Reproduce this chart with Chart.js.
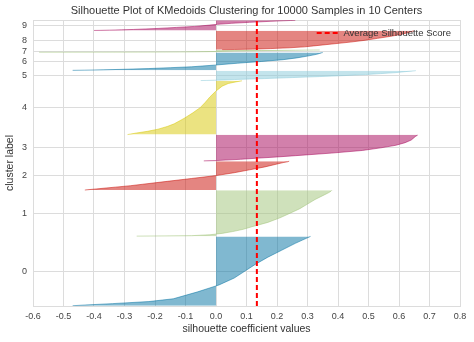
<!DOCTYPE html>
<html>
<head>
<meta charset="utf-8">
<script src="https://cdn.jsdelivr.net/npm/chart.js@4.4.0/dist/chart.umd.min.js"></script>
<style>
  html, body { margin: 0; padding: 0; background: #ffffff; }
  canvas { display: block; }
</style>
</head>
<body>
<canvas id="chart" width="474" height="342"></canvas>
<script>
// cluster ids and number of samples in each cluster
var clusterNames = ["0", "1", "2", "3", "4", "5", "6", "7", "8", "9"];
var clusterSizes = [2450, 1620, 1020, 920, 1900, 350, 630, 80, 670, 360];

// position inside a cluster (0 = lowest sorted sample, 1 = highest)
var ranks = [0, 0.01, 0.03, 0.06, 0.1, 0.15, 0.2, 0.3, 0.4, 0.5, 0.6, 0.7, 0.8, 0.9, 0.95, 0.98, 1];

// sorted silhouette values of each cluster, read at the ranks above
var cluster0 = [-0.47, -0.43, -0.34, -0.22, -0.14, -0.10, -0.06, 0.01, 0.06, 0.095, 0.13, 0.17, 0.215, 0.26, 0.285, 0.30, 0.31];
var cluster1 = [-0.26, -0.08, -0.02, 0.02, 0.055, 0.09, 0.115, 0.17, 0.21, 0.243, 0.275, 0.30, 0.325, 0.355, 0.37, 0.377, 0.38];
var cluster2 = [-0.43, -0.42, -0.40, -0.37, -0.33, -0.28, -0.24, -0.16, -0.08, 0.0, 0.06, 0.11, 0.16, 0.20, 0.22, 0.235, 0.24];
var cluster3 = [-0.04, 0.0, 0.03, 0.08, 0.13, 0.20, 0.26, 0.38, 0.48, 0.54, 0.59, 0.62, 0.64, 0.65, 0.655, 0.66, 0.66];
var cluster4 = [-0.29, -0.28, -0.26, -0.225, -0.19, -0.16, -0.137, -0.105, -0.077, -0.052, -0.035, -0.02, -0.002, 0.02, 0.04, 0.065, 0.085];
var cluster5 = [-0.05, -0.03, -0.005, 0.03, 0.06, 0.11, 0.16, 0.25, 0.34, 0.42, 0.49, 0.54, 0.59, 0.62, 0.64, 0.65, 0.655];
var cluster6 = [-0.47, -0.43, -0.37, -0.30, -0.22, -0.15, -0.08, 0.0, 0.07, 0.15, 0.22, 0.265, 0.30, 0.33, 0.34, 0.345, 0.35];
var cluster7 = [-0.58, -0.50, -0.40, -0.30, -0.20, -0.12, -0.07, -0.02, 0.02, 0.06, 0.10, 0.15, 0.20, 0.26, 0.30, 0.32, 0.34];
var cluster8 = [0.02, 0.06, 0.12, 0.18, 0.24, 0.29, 0.32, 0.38, 0.44, 0.49, 0.53, 0.57, 0.605, 0.63, 0.64, 0.645, 0.65];
var cluster9 = [-0.40, -0.38, -0.35, -0.31, -0.27, -0.23, -0.19, -0.13, -0.07, -0.03, 0.005, 0.05, 0.11, 0.18, 0.22, 0.245, 0.26];
var profiles = [cluster0, cluster1, cluster2, cluster3, cluster4, cluster5, cluster6, cluster7, cluster8, cluster9];

var avgScore = 0.134;
var xTicks = { min: -0.6, max: 0.8, step: 0.1 };

var palette = ["#0272a2", "#9fc377", "#ca0b03", "#a50258", "#d7c703", "#88cada"];
var gap = 10;

function withAlpha(hex, a) {
    var n = parseInt(hex.slice(1), 16);
    return "rgba(" + (n >> 16) + "," + ((n >> 8) & 255) + "," + (n & 255) + "," + a + ")";
}

// stack the clusters bottom-up, 10 empty rows between them
var labelPos = [];
var datasets = [];
var lower = gap;
clusterSizes.forEach(function (size, k) {
    var base = lower;
    var col = palette[k % palette.length];
    datasets.push({
        label: "cluster " + clusterNames[k],
        data: ranks.map(function (r, i) { return { x: profiles[k][i], y: base + r * size }; }),
        borderColor: withAlpha(col, 0.5),
        backgroundColor: withAlpha(col, 0.5),
        borderWidth: 1,
        fill: "origin",
        order: 1
    });
    labelPos.push(base + size / 2);
    lower = base + size + gap;
});
var yMax = lower;

datasets.push({
    label: "Average Silhouette Score",
    data: [{ x: avgScore, y: 0 }, { x: avgScore, y: yMax }],
    borderColor: "#ff0000",
    backgroundColor: "#ff0000",
    borderWidth: 2,
    borderDash: [5, 3],
    fill: false,
    order: 0
});

var gridColor = "#dcdcdc";
var fontFamily = "'Liberation Sans', Arial, sans-serif";

// keep the legend above the filled areas and put it in the top right corner
var legendInside = {
    id: "legendInside",
    beforeLayout: function (chart) {
        var lg = chart.legend;
        lg._layers = function () {
            return [{ z: 1, draw: function (area) { lg.draw(area); } }];
        };
    },
    afterLayout: function (chart) {
        var lg = chart.legend;
        var area = chart.chartArea;
        var pad = lg.options.labels.padding;
        var item = lg.legendHitBoxes[0];
        var h = lg.height;
        lg.left = area.right - 9 - pad - item.width;
        lg.right = lg.left + item.width + 2 * pad;
        lg.width = lg.right - lg.left;
        lg.top = area.top + 13 - pad - item.height / 2;
        lg.bottom = lg.top + h;
    }
};

var ctx = document.getElementById("chart");
var myChart = new Chart(ctx, {
    type: "line",
    data: { datasets: datasets },
    plugins: [legendInside],
    options: {
        responsive: false,
        animation: false,
        devicePixelRatio: 1,
        indexAxis: "y",
        layout: { padding: { left: 0, right: 14, top: 0, bottom: 0 } },
        elements: {
            point: { radius: 0, hoverRadius: 0 },
            line: { tension: 0 }
        },
        plugins: {
            title: {
                display: true,
                fullSize: false,
                text: "Silhouette Plot of KMedoids Clustering for 10000 Samples in 10 Centers",
                color: "#333333",
                font: { family: fontFamily, size: 11, weight: "normal" },
                padding: { top: 4, bottom: 2.8 }
            },
            legend: {
                position: "chartArea",
                align: "start",
                labels: {
                    filter: function (item) { return item.text === "Average Silhouette Score"; },
                    generateLabels: function (chart) {
                        var items = Chart.defaults.plugins.legend.labels.generateLabels(chart);
                        items.forEach(function (it) {
                            var ds = chart.data.datasets[it.datasetIndex];
                            it.lineDash = ds.borderDash;
                            it.lineWidth = ds.borderWidth;
                            it.strokeStyle = ds.borderColor;
                        });
                        return items;
                    },
                    usePointStyle: true,
                    pointStyle: "line",
                    pointStyleWidth: 22,
                    boxHeight: 9,
                    padding: 6,
                    color: "#333333",
                    font: { family: fontFamily, size: 9.5 }
                }
            },
            tooltip: { enabled: false }
        },
        scales: {
            x: {
                type: "linear",
                position: "bottom",
                min: xTicks.min,
                max: xTicks.max,
                grid: { color: gridColor, drawTicks: false },
                border: { color: gridColor },
                ticks: {
                    stepSize: xTicks.step,
                    padding: 5,
                    color: "#444444",
                    font: { family: fontFamily, size: 9 },
                    maxRotation: 0,
                    callback: function (v) { return Math.abs(v) < 1e-9 ? "0.0" : v.toFixed(1); }
                },
                title: {
                    display: true,
                    text: "silhouette coefficient values",
                    color: "#333333",
                    font: { family: fontFamily, size: 10.5 },
                    padding: { top: 0, bottom: 7 }
                },
                afterFit: function (scale) {
                    scale.height = 36;
                    scale.paddingLeft = 0;
                    scale.paddingRight = 0;
                }
            },
            y: {
                type: "linear",
                position: "left",
                min: 0,
                max: yMax,
                grid: { color: gridColor, drawTicks: false },
                border: { color: gridColor },
                afterBuildTicks: function (scale) {
                    scale.ticks = [0].concat(labelPos, [yMax]).map(function (v) { return { value: v }; });
                },
                ticks: {
                    autoSkip: false,
                    padding: 6,
                    color: "#444444",
                    font: { family: fontFamily, size: 9 },
                    callback: function (v) {
                        var k = labelPos.indexOf(v);
                        return k >= 0 ? clusterNames[k] : "";
                    }
                },
                title: {
                    display: true,
                    text: "cluster label",
                    color: "#333333",
                    font: { family: fontFamily, size: 10.5 },
                    padding: { top: 4, bottom: 0 }
                },
                afterFit: function (scale) {
                    scale.width = 33;
                    scale.paddingTop = 0;
                    scale.paddingBottom = 0;
                }
            }
        }
    }
});
</script>
</body>
</html>
